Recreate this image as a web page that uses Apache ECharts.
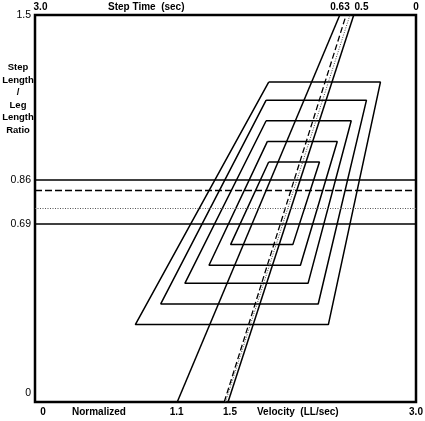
<!DOCTYPE html>
<html><head><meta charset="utf-8">
<script src="https://cdn.jsdelivr.net/npm/echarts@6/dist/echarts.min.js"></script>
<style>html,body{margin:0;padding:0;background:#fff}#c{width:425px;height:421px}</style>
</head><body><div id="c"></div>
<script>
// Tick labels
const velocityTicks = [0, 1.1, 1.5, 3.0];
const ratioTicks = [0, 0.69, 0.86, 1.5];
const stepTimeTicks = [3.0, 0.63, 0.5, 0];
const tickText = {"0":"0","1.1":"1.1","1.5":"1.5","3":"3.0","0.69":"0.69","0.86":"0.86","0.63":"0.63","0.5":"0.5"};

// Nested quadrilaterals [velocity, ratio] (outer -> inner)
const shape1 = [[1.84,1.24],[2.72,1.24],[2.31,0.30],[0.79,0.30]];
const shape2 = [[1.82,1.17],[2.61,1.17],[2.23,0.38],[0.99,0.38]];
const shape3 = [[1.82,1.09],[2.49,1.09],[2.15,0.46],[1.18,0.46]];
const shape4 = [[1.83,1.01],[2.38,1.01],[2.09,0.53],[1.37,0.53]];
const shape5 = [[1.84,0.93],[2.24,0.93],[2.03,0.61],[1.54,0.61]];

// Diagonal lines [velocity, ratio]
const diagSolidA = [[1.12,0],[2.40,1.5]];
const diagDashed = [[1.49,0],[2.45,1.5]];
const diagDotted = [[1.50,0],[2.48,1.5]];
const diagSolidB = [[1.52,0],[2.51,1.5]];

// Horizontal reference ratios
const hSolidHigh = 0.86;
const hDashed = 0.82;
const hDotted = 0.75;
const hSolidLow = 0.69;

const chart = echarts.init(document.getElementById('c'), null, {renderer:'canvas'});
const FONT = '"Liberation Sans", Arial, sans-serif';
function closed(a){ return a.concat([a[0]]); }
function lineSeries(data, type, width, color){
  return {type:'line', data:data, symbol:'none', silent:true, animation:false,
    xAxisIndex:0, yAxisIndex:0,
    lineStyle:{color:color||'#000', width:width||1.5, type:type||'solid'}};
}
function hline(v){ return [[0,v],[3,v]]; }
const key = v => String(+(+v).toFixed(2));
const txt = v => tickText[key(v)] ?? String(v);

// label nudges (rich-text padding) to mimic the hand-placed labels
function makeRich(base, pads){
  const r = {};
  Object.keys(pads).forEach(k => { r[k] = Object.assign({}, base, {padding: pads[k]}); });
  r.n = Object.assign({}, base);
  return r;
}
const boldBase = {fontFamily:FONT, fontWeight:'bold', fontSize:10, color:'#000'};
const normBase = {fontFamily:FONT, fontSize:10.5, color:'#000'};

const bottomMap = {"0":"b0","1.1":"b1","1.5":"b2"};
const topMap = {"3":"t0","0.63":"t1","0.5":"t2"};
const leftMap = {"0":"l0"};

const option = {
  backgroundColor:'#fff',
  animation:false,
  grid:{left:35, right:9, top:15, bottom:19, containLabel:false, outerBoundsMode:'none',
        show:true, borderColor:'#000', borderWidth:2.5, backgroundColor:'transparent'},
  xAxis:[
    {type:'value', min:0, max:3, position:'bottom',
     axisLine:{show:false}, axisTick:{show:false}, splitLine:{show:false},
     axisLabel:{customValues:velocityTicks, margin:5,
       formatter: v => '{' + (bottomMap[key(v)]||'n') + '|' + txt(v) + '}',
       rich: makeRich(boldBase, {b0:[0,0,0,16], b1:[0,0,0,4], b2:[0,0,0,9]})}},
    {type:'value', min:0, max:3, position:'top', inverse:true,
     axisLine:{show:false}, axisTick:{show:false}, splitLine:{show:false},
     axisLabel:{customValues:stepTimeTicks, margin:3,
       formatter: v => '{' + (topMap[key(v)]||'n') + '|' + txt(v) + '}',
       rich: makeRich(boldBase, {t0:[0,0,0,11], t1:[0,0,0,8], t2:[0,0,0,18]})}}
  ],
  yAxis:[{type:'value', min:0, max:1.5,
     axisLine:{show:false}, axisTick:{show:false}, splitLine:{show:false},
     axisLabel:{customValues:ratioTicks, margin:4,
       formatter: v => '{' + (leftMap[key(v)]||'n') + '|' + txt(v) + '}',
       rich: makeRich(normBase, {l0:[0,0,18,0]})}}],
  graphic:[
    {type:'text', left:108, top:2, style:{text:'Step Time  (sec)', font:'bold 10px '+FONT, fill:'#000'}},
    {type:'text', left:72, top:407, style:{text:'Normalized', font:'bold 10px '+FONT, fill:'#000'}},
    {type:'text', left:257, top:407, style:{text:'Velocity  (LL/sec)', font:'bold 10px '+FONT, fill:'#000'}},
    {type:'text', x:18, y:61, style:{text:'Step\nLength\n/\nLeg\nLength\nRatio', font:'bold 9.5px '+FONT,
      fill:'#000', align:'center', verticalAlign:'top', lineHeight:12.6}}
  ],
  series:[
    lineSeries(closed(shape1)),
    lineSeries(closed(shape2)),
    lineSeries(closed(shape3)),
    lineSeries(closed(shape4)),
    lineSeries(closed(shape5)),
    lineSeries(diagSolidA),
    lineSeries(diagDashed, [6,3], 1.3),
    lineSeries(diagDotted, [1,1.5], 1, '#444'),
    lineSeries(diagSolidB),
    lineSeries(hline(hSolidHigh)),
    lineSeries(hline(hDashed), [7,3], 1.5),
    lineSeries(hline(hDotted), [1,1.5], 1, '#555'),
    lineSeries(hline(hSolidLow))
  ]
};
chart.setOption(option);
</script></body></html>
